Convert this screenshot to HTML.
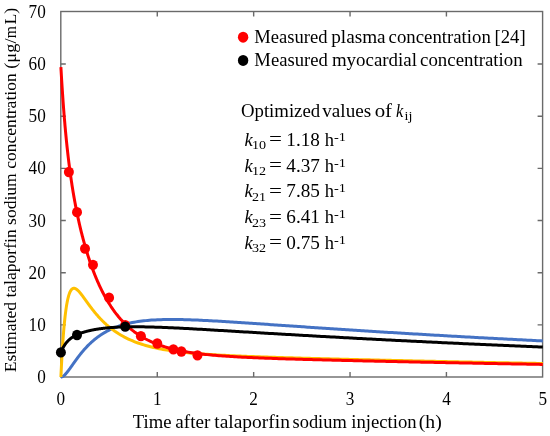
<!DOCTYPE html>
<html><head><meta charset="utf-8"><style>
html,body{margin:0;padding:0;background:#fff;}
body{width:550px;height:436px;overflow:hidden;}
svg{display:block;will-change:transform;filter:blur(0.45px);}
text{font-family:"Liberation Serif",serif;fill:#000;}
</style></head><body>
<svg width="550" height="436" viewBox="0 0 550 436">
<rect width="550" height="436" fill="#fff"/>
<rect x="60.80" y="11.50" width="481.80" height="365.50" fill="none" stroke="#6a6a6a" stroke-width="1.40"/>
<path d="M157.28,377.00V372.00M157.28,11.50V16.50M253.66,377.00V372.00M253.66,11.50V16.50M350.04,377.00V372.00M350.04,11.50V16.50M446.42,377.00V372.00M446.42,11.50V16.50M60.80,324.84H65.80M542.60,324.84H537.60M60.80,272.68H65.80M542.60,272.68H537.60M60.80,220.52H65.80M542.60,220.52H537.60M60.80,168.36H65.80M542.60,168.36H537.60M60.80,116.20H65.80M542.60,116.20H537.60M60.80,64.04H65.80M542.60,64.04H537.60" stroke="#6a6a6a" stroke-width="1.40" fill="none"/>
<text transform="translate(45.80,383.00) scale(0.920,1)" font-size="18.70" text-anchor="end">0</text>
<text transform="translate(45.80,330.84) scale(0.920,1)" font-size="18.70" text-anchor="end">10</text>
<text transform="translate(45.80,278.68) scale(0.920,1)" font-size="18.70" text-anchor="end">20</text>
<text transform="translate(45.80,226.52) scale(0.920,1)" font-size="18.70" text-anchor="end">30</text>
<text transform="translate(45.80,174.36) scale(0.920,1)" font-size="18.70" text-anchor="end">40</text>
<text transform="translate(45.80,122.20) scale(0.920,1)" font-size="18.70" text-anchor="end">50</text>
<text transform="translate(45.80,70.04) scale(0.920,1)" font-size="18.70" text-anchor="end">60</text>
<text transform="translate(45.80,17.88) scale(0.920,1)" font-size="18.70" text-anchor="end">70</text>
<text transform="translate(60.90,404.60) scale(0.920,1)" font-size="18.70" text-anchor="middle">0</text>
<text transform="translate(157.28,404.60) scale(0.920,1)" font-size="18.70" text-anchor="middle">1</text>
<text transform="translate(253.66,404.60) scale(0.920,1)" font-size="18.70" text-anchor="middle">2</text>
<text transform="translate(350.04,404.60) scale(0.920,1)" font-size="18.70" text-anchor="middle">3</text>
<text transform="translate(446.42,404.60) scale(0.920,1)" font-size="18.70" text-anchor="middle">4</text>
<text transform="translate(542.80,404.60) scale(0.920,1)" font-size="18.70" text-anchor="middle">5</text>
<g fill="none" stroke-width="3" stroke-linejoin="round" stroke-linecap="butt">
<path d="M60.90,377.00 L61.14,376.99 L61.38,376.96 L61.62,376.91 L61.86,376.84 L62.10,376.75 L62.35,376.65 L62.59,376.53 L62.83,376.39 L63.07,376.24 L63.31,376.08 L63.55,375.91 L63.79,375.72 L64.03,375.52 L64.27,375.31 L64.51,375.09 L64.76,374.86 L65.00,374.63 L65.24,374.38 L65.48,374.13 L65.72,373.87 L65.96,373.60 L66.20,373.32 L66.44,373.04 L66.68,372.75 L66.92,372.46 L67.16,372.16 L67.41,371.86 L67.65,371.56 L67.89,371.25 L68.13,370.93 L68.37,370.62 L68.61,370.30 L68.85,369.97 L69.09,369.65 L69.33,369.32 L69.57,368.99 L69.82,368.66 L70.06,368.32 L70.30,367.99 L70.54,367.65 L70.78,367.31 L71.02,366.97 L71.26,366.63 L71.50,366.29 L71.74,365.95 L71.98,365.61 L72.22,365.27 L72.47,364.93 L72.71,364.59 L72.95,364.25 L73.19,363.90 L73.43,363.56 L73.67,363.22 L73.91,362.88 L74.15,362.54 L74.39,362.21 L74.63,361.87 L74.88,361.53 L75.12,361.20 L75.36,360.86 L75.60,360.53 L75.84,360.19 L76.08,359.86 L76.32,359.53 L76.56,359.20 L76.80,358.88 L77.04,358.55 L77.28,358.23 L77.53,357.90 L77.77,357.58 L78.01,357.26 L78.25,356.94 L78.49,356.62 L78.73,356.31 L78.97,356.00 L79.21,355.68 L79.45,355.37 L79.69,355.06 L79.94,354.76 L80.18,354.45 L80.42,354.15 L80.66,353.85 L80.90,353.55 L81.14,353.25 L81.38,352.95 L81.62,352.66 L81.86,352.36 L82.10,352.07 L82.34,351.78 L82.59,351.50 L82.83,351.21 L83.07,350.93 L83.31,350.65 L83.55,350.37 L83.79,350.09 L84.03,349.81 L84.27,349.54 L84.51,349.27 L84.75,349.00 L85.00,348.73 L85.24,348.46 L85.48,348.20 L85.72,347.94 L85.96,347.68 L86.20,347.42 L86.44,347.16 L86.68,346.91 L86.92,346.65 L87.16,346.40 L87.40,346.15 L87.65,345.90 L87.89,345.66 L88.13,345.41 L88.37,345.17 L88.61,344.93 L88.85,344.69 L89.09,344.45 L89.33,344.22 L89.57,343.99 L89.81,343.76 L90.05,343.53 L90.30,343.30 L90.54,343.07 L90.78,342.85 L91.02,342.62 L91.26,342.40 L91.50,342.18 L91.74,341.97 L91.98,341.75 L92.22,341.54 L92.46,341.32 L92.71,341.11 L92.95,340.90 L93.19,340.70 L93.43,340.49 L93.67,340.29 L93.91,340.08 L94.15,339.88 L94.39,339.68 L94.63,339.48 L94.87,339.29 L95.11,339.09 L95.36,338.90 L95.60,338.71 L95.84,338.52 L96.08,338.33 L96.32,338.14 L96.56,337.96 L96.80,337.77 L97.04,337.59 L97.28,337.41 L97.52,337.23 L97.77,337.05 L98.01,336.88 L98.25,336.70 L98.49,336.53 L98.73,336.36 L98.97,336.19 L99.21,336.02 L99.45,335.85 L99.69,335.68 L99.93,335.52 L100.17,335.35 L100.42,335.19 L100.66,335.03 L100.90,334.87 L101.14,334.71 L101.38,334.55 L101.62,334.40 L101.86,334.24 L102.10,334.09 L102.34,333.94 L102.58,333.79 L102.83,333.64 L103.07,333.49 L103.31,333.34 L103.55,333.20 L103.79,333.05 L104.03,332.91 L104.27,332.77 L104.51,332.63 L104.75,332.49 L104.99,332.35 L105.23,332.21 L105.48,332.08 L105.72,331.94 L105.96,331.81 L106.20,331.67 L106.44,331.54 L106.68,331.41 L106.92,331.28 L107.16,331.16 L107.40,331.03 L107.64,330.90 L107.89,330.78 L108.13,330.65 L108.37,330.53 L108.61,330.41 L108.85,330.29 L109.09,330.17 L111.02,329.25 L112.95,328.40 L114.87,327.60 L116.80,326.86 L118.73,326.17 L120.66,325.53 L122.58,324.94 L124.51,324.39 L126.44,323.89 L128.37,323.42 L130.29,322.99 L132.22,322.59 L134.15,322.22 L136.08,321.89 L138.00,321.59 L139.93,321.31 L141.86,321.06 L143.79,320.83 L145.71,320.62 L147.64,320.44 L149.57,320.27 L151.50,320.12 L153.42,320.00 L155.35,319.88 L157.28,319.79 L159.21,319.71 L161.14,319.64 L163.06,319.58 L164.99,319.54 L166.92,319.51 L168.85,319.49 L170.77,319.48 L172.70,319.48 L174.63,319.49 L176.56,319.50 L178.48,319.53 L180.41,319.56 L182.34,319.60 L184.27,319.64 L186.19,319.69 L188.12,319.75 L190.05,319.81 L191.98,319.88 L193.90,319.95 L195.83,320.03 L197.76,320.11 L199.69,320.20 L201.61,320.28 L203.54,320.38 L205.47,320.47 L207.40,320.57 L209.33,320.67 L211.25,320.77 L213.18,320.88 L215.11,320.99 L217.04,321.10 L218.96,321.21 L220.89,321.32 L222.82,321.44 L224.75,321.56 L226.67,321.68 L228.60,321.80 L230.53,321.92 L232.46,322.04 L234.38,322.16 L236.31,322.29 L238.24,322.41 L240.17,322.54 L242.09,322.67 L244.02,322.79 L245.95,322.92 L247.88,323.05 L249.80,323.18 L251.73,323.31 L253.66,323.44 L255.59,323.57 L257.52,323.70 L259.44,323.83 L261.37,323.97 L263.30,324.10 L265.23,324.23 L267.15,324.36 L269.08,324.49 L271.01,324.63 L272.94,324.76 L274.86,324.89 L276.79,325.02 L278.72,325.16 L280.65,325.29 L282.57,325.42 L284.50,325.55 L286.43,325.69 L288.36,325.82 L290.28,325.95 L292.21,326.08 L294.14,326.21 L296.07,326.35 L297.99,326.48 L299.92,326.61 L301.85,326.74 L303.78,326.87 L305.71,327.00 L307.63,327.13 L309.56,327.26 L311.49,327.39 L313.42,327.52 L315.34,327.65 L317.27,327.78 L319.20,327.91 L321.13,328.04 L323.05,328.17 L324.98,328.30 L326.91,328.43 L328.84,328.55 L330.76,328.68 L332.69,328.81 L334.62,328.94 L336.55,329.06 L338.47,329.19 L340.40,329.32 L342.33,329.44 L344.26,329.57 L346.18,329.69 L348.11,329.82 L350.04,329.94 L351.97,330.07 L353.90,330.19 L355.82,330.32 L357.75,330.44 L359.68,330.56 L361.61,330.69 L363.53,330.81 L365.46,330.93 L367.39,331.05 L369.32,331.18 L371.24,331.30 L373.17,331.42 L375.10,331.54 L377.03,331.66 L378.95,331.78 L380.88,331.90 L382.81,332.02 L384.74,332.14 L386.66,332.26 L388.59,332.38 L390.52,332.50 L392.45,332.61 L394.37,332.73 L396.30,332.85 L398.23,332.97 L400.16,333.08 L402.09,333.20 L404.01,333.32 L405.94,333.43 L407.87,333.55 L409.80,333.66 L411.72,333.78 L413.65,333.89 L415.58,334.01 L417.51,334.12 L419.43,334.24 L421.36,334.35 L423.29,334.46 L425.22,334.58 L427.14,334.69 L429.07,334.80 L431.00,334.92 L432.93,335.03 L434.85,335.14 L436.78,335.25 L438.71,335.36 L440.64,335.47 L442.56,335.58 L444.49,335.69 L446.42,335.80 L448.35,335.91 L450.28,336.02 L452.20,336.13 L454.13,336.24 L456.06,336.35 L457.99,336.46 L459.91,336.56 L461.84,336.67 L463.77,336.78 L465.70,336.88 L467.62,336.99 L469.55,337.10 L471.48,337.20 L473.41,337.31 L475.33,337.42 L477.26,337.52 L479.19,337.63 L481.12,337.73 L483.04,337.83 L484.97,337.94 L486.90,338.04 L488.83,338.15 L490.75,338.25 L492.68,338.35 L494.61,338.46 L496.54,338.56 L498.47,338.66 L500.39,338.76 L502.32,338.86 L504.25,338.97 L506.18,339.07 L508.10,339.17 L510.03,339.27 L511.96,339.37 L513.89,339.47 L515.81,339.57 L517.74,339.67 L519.67,339.77 L521.60,339.87 L523.52,339.97 L525.45,340.06 L527.38,340.16 L529.31,340.26 L531.23,340.36 L533.16,340.46 L535.09,340.55 L537.02,340.65 L538.94,340.75 L540.87,340.84 L542.80,340.94" stroke="#4472C4" />
<path d="M60.90,377.00 L61.14,371.87 L61.38,366.99 L61.62,362.34 L61.86,357.93 L62.10,353.73 L62.35,349.74 L62.59,345.95 L62.83,342.35 L63.07,338.93 L63.31,335.69 L63.55,332.61 L63.79,329.69 L64.03,326.93 L64.27,324.31 L64.51,321.83 L64.76,319.48 L65.00,317.27 L65.24,315.17 L65.48,313.19 L65.72,311.32 L65.96,309.55 L66.20,307.89 L66.44,306.32 L66.68,304.85 L66.92,303.47 L67.16,302.16 L67.41,300.95 L67.65,299.80 L67.89,298.73 L68.13,297.73 L68.37,296.80 L68.61,295.94 L68.85,295.13 L69.09,294.38 L69.33,293.69 L69.57,293.05 L69.82,292.46 L70.06,291.92 L70.30,291.43 L70.54,290.98 L70.78,290.57 L71.02,290.20 L71.26,289.87 L71.50,289.58 L71.74,289.32 L71.98,289.09 L72.22,288.90 L72.47,288.73 L72.71,288.59 L72.95,288.49 L73.19,288.40 L73.43,288.34 L73.67,288.31 L73.91,288.29 L74.15,288.30 L74.39,288.33 L74.63,288.38 L74.88,288.44 L75.12,288.52 L75.36,288.62 L75.60,288.74 L75.84,288.86 L76.08,289.01 L76.32,289.16 L76.56,289.33 L76.80,289.51 L77.04,289.70 L77.28,289.90 L77.53,290.11 L77.77,290.33 L78.01,290.56 L78.25,290.80 L78.49,291.05 L78.73,291.30 L78.97,291.56 L79.21,291.83 L79.45,292.10 L79.69,292.38 L79.94,292.66 L80.18,292.95 L80.42,293.24 L80.66,293.54 L80.90,293.84 L81.14,294.15 L81.38,294.46 L81.62,294.77 L81.86,295.08 L82.10,295.40 L82.34,295.72 L82.59,296.04 L82.83,296.37 L83.07,296.69 L83.31,297.02 L83.55,297.35 L83.79,297.68 L84.03,298.01 L84.27,298.34 L84.51,298.68 L84.75,299.01 L85.00,299.34 L85.24,299.68 L85.48,300.01 L85.72,300.35 L85.96,300.68 L86.20,301.02 L86.44,301.35 L86.68,301.69 L86.92,302.02 L87.16,302.36 L87.40,302.69 L87.65,303.02 L87.89,303.36 L88.13,303.69 L88.37,304.02 L88.61,304.35 L88.85,304.68 L89.09,305.00 L89.33,305.33 L89.57,305.66 L89.81,305.98 L90.05,306.30 L90.30,306.63 L90.54,306.95 L90.78,307.27 L91.02,307.59 L91.26,307.90 L91.50,308.22 L91.74,308.53 L91.98,308.84 L92.22,309.16 L92.46,309.46 L92.71,309.77 L92.95,310.08 L93.19,310.38 L93.43,310.69 L93.67,310.99 L93.91,311.29 L94.15,311.59 L94.39,311.89 L94.63,312.18 L94.87,312.47 L95.11,312.77 L95.36,313.06 L95.60,313.35 L95.84,313.63 L96.08,313.92 L96.32,314.20 L96.56,314.48 L96.80,314.76 L97.04,315.04 L97.28,315.32 L97.52,315.59 L97.77,315.87 L98.01,316.14 L98.25,316.41 L98.49,316.68 L98.73,316.95 L98.97,317.21 L99.21,317.47 L99.45,317.74 L99.69,318.00 L99.93,318.25 L100.17,318.51 L100.42,318.76 L100.66,319.02 L100.90,319.27 L101.14,319.52 L101.38,319.77 L101.62,320.01 L101.86,320.26 L102.10,320.50 L102.34,320.74 L102.58,320.98 L102.83,321.22 L103.07,321.46 L103.31,321.70 L103.55,321.93 L103.79,322.16 L104.03,322.39 L104.27,322.62 L104.51,322.85 L104.75,323.07 L104.99,323.30 L105.23,323.52 L105.48,323.74 L105.72,323.96 L105.96,324.18 L106.20,324.40 L106.44,324.61 L106.68,324.83 L106.92,325.04 L107.16,325.25 L107.40,325.46 L107.64,325.67 L107.89,325.87 L108.13,326.08 L108.37,326.28 L108.61,326.48 L108.85,326.68 L109.09,326.88 L111.02,328.43 L112.95,329.89 L114.87,331.27 L116.80,332.57 L118.73,333.81 L120.66,334.97 L122.58,336.07 L124.51,337.12 L126.44,338.10 L128.37,339.03 L130.29,339.91 L132.22,340.74 L134.15,341.53 L136.08,342.28 L138.00,342.98 L139.93,343.65 L141.86,344.29 L143.79,344.89 L145.71,345.45 L147.64,345.99 L149.57,346.50 L151.50,346.99 L153.42,347.45 L155.35,347.89 L157.28,348.30 L159.21,348.70 L161.14,349.07 L163.06,349.43 L164.99,349.77 L166.92,350.09 L168.85,350.39 L170.77,350.69 L172.70,350.97 L174.63,351.23 L176.56,351.49 L178.48,351.73 L180.41,351.96 L182.34,352.18 L184.27,352.39 L186.19,352.60 L188.12,352.79 L190.05,352.98 L191.98,353.16 L193.90,353.33 L195.83,353.49 L197.76,353.65 L199.69,353.80 L201.61,353.95 L203.54,354.09 L205.47,354.23 L207.40,354.36 L209.33,354.49 L211.25,354.61 L213.18,354.73 L215.11,354.85 L217.04,354.96 L218.96,355.07 L220.89,355.17 L222.82,355.27 L224.75,355.37 L226.67,355.47 L228.60,355.56 L230.53,355.65 L232.46,355.74 L234.38,355.83 L236.31,355.92 L238.24,356.00 L240.17,356.08 L242.09,356.16 L244.02,356.24 L245.95,356.32 L247.88,356.39 L249.80,356.47 L251.73,356.54 L253.66,356.61 L255.59,356.68 L257.52,356.75 L259.44,356.82 L261.37,356.88 L263.30,356.95 L265.23,357.02 L267.15,357.08 L269.08,357.14 L271.01,357.21 L272.94,357.27 L274.86,357.33 L276.79,357.39 L278.72,357.45 L280.65,357.51 L282.57,357.57 L284.50,357.63 L286.43,357.68 L288.36,357.74 L290.28,357.80 L292.21,357.85 L294.14,357.91 L296.07,357.96 L297.99,358.02 L299.92,358.07 L301.85,358.13 L303.78,358.18 L305.71,358.24 L307.63,358.29 L309.56,358.34 L311.49,358.39 L313.42,358.45 L315.34,358.50 L317.27,358.55 L319.20,358.60 L321.13,358.65 L323.05,358.70 L324.98,358.75 L326.91,358.80 L328.84,358.85 L330.76,358.90 L332.69,358.95 L334.62,359.00 L336.55,359.05 L338.47,359.10 L340.40,359.15 L342.33,359.20 L344.26,359.25 L346.18,359.29 L348.11,359.34 L350.04,359.39 L351.97,359.44 L353.90,359.48 L355.82,359.53 L357.75,359.58 L359.68,359.63 L361.61,359.67 L363.53,359.72 L365.46,359.77 L367.39,359.81 L369.32,359.86 L371.24,359.90 L373.17,359.95 L375.10,360.00 L377.03,360.04 L378.95,360.09 L380.88,360.13 L382.81,360.18 L384.74,360.22 L386.66,360.27 L388.59,360.31 L390.52,360.36 L392.45,360.40 L394.37,360.45 L396.30,360.49 L398.23,360.53 L400.16,360.58 L402.09,360.62 L404.01,360.67 L405.94,360.71 L407.87,360.75 L409.80,360.80 L411.72,360.84 L413.65,360.88 L415.58,360.93 L417.51,360.97 L419.43,361.01 L421.36,361.05 L423.29,361.10 L425.22,361.14 L427.14,361.18 L429.07,361.22 L431.00,361.27 L432.93,361.31 L434.85,361.35 L436.78,361.39 L438.71,361.43 L440.64,361.47 L442.56,361.51 L444.49,361.56 L446.42,361.60 L448.35,361.64 L450.28,361.68 L452.20,361.72 L454.13,361.76 L456.06,361.80 L457.99,361.84 L459.91,361.88 L461.84,361.92 L463.77,361.96 L465.70,362.00 L467.62,362.04 L469.55,362.08 L471.48,362.12 L473.41,362.16 L475.33,362.20 L477.26,362.24 L479.19,362.28 L481.12,362.32 L483.04,362.36 L484.97,362.40 L486.90,362.44 L488.83,362.47 L490.75,362.51 L492.68,362.55 L494.61,362.59 L496.54,362.63 L498.47,362.67 L500.39,362.70 L502.32,362.74 L504.25,362.78 L506.18,362.82 L508.10,362.86 L510.03,362.89 L511.96,362.93 L513.89,362.97 L515.81,363.01 L517.74,363.04 L519.67,363.08 L521.60,363.12 L523.52,363.15 L525.45,363.19 L527.38,363.23 L529.31,363.26 L531.23,363.30 L533.16,363.34 L535.09,363.37 L537.02,363.41 L538.94,363.45 L540.87,363.48 L542.80,363.52" stroke="#FFC000" />
<path d="M60.90,67.17 L61.14,71.41 L61.38,75.52 L61.62,79.52 L61.86,83.41 L62.10,87.19 L62.35,90.86 L62.59,94.44 L62.83,97.92 L63.07,101.31 L63.31,104.61 L63.55,107.83 L63.79,110.96 L64.03,114.02 L64.27,117.00 L64.51,119.90 L64.76,122.74 L65.00,125.51 L65.24,128.21 L65.48,130.85 L65.72,133.43 L65.96,135.95 L66.20,138.41 L66.44,140.83 L66.68,143.18 L66.92,145.49 L67.16,147.75 L67.41,149.96 L67.65,152.13 L67.89,154.25 L68.13,156.34 L68.37,158.38 L68.61,160.38 L68.85,162.34 L69.09,164.27 L69.33,166.16 L69.57,168.01 L69.82,169.84 L70.06,171.63 L70.30,173.39 L70.54,175.12 L70.78,176.82 L71.02,178.49 L71.26,180.13 L71.50,181.75 L71.74,183.34 L71.98,184.91 L72.22,186.45 L72.47,187.97 L72.71,189.47 L72.95,190.95 L73.19,192.40 L73.43,193.83 L73.67,195.24 L73.91,196.63 L74.15,198.01 L74.39,199.36 L74.63,200.70 L74.88,202.02 L75.12,203.32 L75.36,204.60 L75.60,205.87 L75.84,207.12 L76.08,208.36 L76.32,209.58 L76.56,210.78 L76.80,211.98 L77.04,213.15 L77.28,214.32 L77.53,215.47 L77.77,216.61 L78.01,217.73 L78.25,218.84 L78.49,219.94 L78.73,221.03 L78.97,222.11 L79.21,223.17 L79.45,224.22 L79.69,225.27 L79.94,226.30 L80.18,227.32 L80.42,228.33 L80.66,229.33 L80.90,230.32 L81.14,231.30 L81.38,232.27 L81.62,233.23 L81.86,234.18 L82.10,235.12 L82.34,236.06 L82.59,236.98 L82.83,237.90 L83.07,238.81 L83.31,239.70 L83.55,240.60 L83.79,241.48 L84.03,242.35 L84.27,243.22 L84.51,244.08 L84.75,244.93 L85.00,245.77 L85.24,246.61 L85.48,247.44 L85.72,248.26 L85.96,249.08 L86.20,249.88 L86.44,250.68 L86.68,251.48 L86.92,252.27 L87.16,253.05 L87.40,253.82 L87.65,254.59 L87.89,255.35 L88.13,256.10 L88.37,256.85 L88.61,257.59 L88.85,258.33 L89.09,259.06 L89.33,259.78 L89.57,260.50 L89.81,261.22 L90.05,261.92 L90.30,262.62 L90.54,263.32 L90.78,264.01 L91.02,264.69 L91.26,265.37 L91.50,266.05 L91.74,266.71 L91.98,267.38 L92.22,268.03 L92.46,268.69 L92.71,269.33 L92.95,269.98 L93.19,270.61 L93.43,271.25 L93.67,271.87 L93.91,272.50 L94.15,273.11 L94.39,273.73 L94.63,274.34 L94.87,274.94 L95.11,275.54 L95.36,276.13 L95.60,276.72 L95.84,277.31 L96.08,277.89 L96.32,278.46 L96.56,279.04 L96.80,279.60 L97.04,280.17 L97.28,280.73 L97.52,281.28 L97.77,281.83 L98.01,282.38 L98.25,282.92 L98.49,283.46 L98.73,283.99 L98.97,284.52 L99.21,285.05 L99.45,285.57 L99.69,286.09 L99.93,286.60 L100.17,287.11 L100.42,287.62 L100.66,288.12 L100.90,288.62 L101.14,289.12 L101.38,289.61 L101.62,290.10 L101.86,290.58 L102.10,291.06 L102.34,291.54 L102.58,292.01 L102.83,292.48 L103.07,292.95 L103.31,293.41 L103.55,293.87 L103.79,294.33 L104.03,294.78 L104.27,295.23 L104.51,295.68 L104.75,296.12 L104.99,296.56 L105.23,297.00 L105.48,297.43 L105.72,297.86 L105.96,298.28 L106.20,298.71 L106.44,299.13 L106.68,299.55 L106.92,299.96 L107.16,300.37 L107.40,300.78 L107.64,301.18 L107.89,301.59 L108.13,301.99 L108.37,302.38 L108.61,302.78 L108.85,303.17 L109.09,303.55 L111.02,306.55 L112.95,309.38 L114.87,312.05 L116.80,314.56 L118.73,316.94 L120.66,319.17 L122.58,321.28 L124.51,323.28 L126.44,325.15 L128.37,326.93 L130.29,328.60 L132.22,330.18 L134.15,331.67 L136.08,333.08 L138.00,334.41 L139.93,335.66 L141.86,336.85 L143.79,337.97 L145.71,339.03 L147.64,340.02 L149.57,340.97 L151.50,341.86 L153.42,342.71 L155.35,343.51 L157.28,344.26 L159.21,344.98 L161.14,345.65 L163.06,346.29 L164.99,346.90 L166.92,347.47 L168.85,348.02 L170.77,348.53 L172.70,349.02 L174.63,349.48 L176.56,349.92 L178.48,350.34 L180.41,350.74 L182.34,351.11 L184.27,351.47 L186.19,351.81 L188.12,352.13 L190.05,352.44 L191.98,352.73 L193.90,353.01 L195.83,353.27 L197.76,353.53 L199.69,353.77 L201.61,354.00 L203.54,354.22 L205.47,354.43 L207.40,354.63 L209.33,354.82 L211.25,355.00 L213.18,355.18 L215.11,355.35 L217.04,355.51 L218.96,355.66 L220.89,355.81 L222.82,355.96 L224.75,356.10 L226.67,356.23 L228.60,356.36 L230.53,356.48 L232.46,356.60 L234.38,356.71 L236.31,356.83 L238.24,356.93 L240.17,357.04 L242.09,357.14 L244.02,357.24 L245.95,357.33 L247.88,357.42 L249.80,357.51 L251.73,357.60 L253.66,357.69 L255.59,357.77 L257.52,357.85 L259.44,357.93 L261.37,358.00 L263.30,358.08 L265.23,358.15 L267.15,358.23 L269.08,358.30 L271.01,358.37 L272.94,358.43 L274.86,358.50 L276.79,358.57 L278.72,358.63 L280.65,358.69 L282.57,358.76 L284.50,358.82 L286.43,358.88 L288.36,358.94 L290.28,359.00 L292.21,359.05 L294.14,359.11 L296.07,359.17 L297.99,359.22 L299.92,359.28 L301.85,359.33 L303.78,359.39 L305.71,359.44 L307.63,359.49 L309.56,359.55 L311.49,359.60 L313.42,359.65 L315.34,359.70 L317.27,359.75 L319.20,359.80 L321.13,359.85 L323.05,359.90 L324.98,359.95 L326.91,360.00 L328.84,360.05 L330.76,360.10 L332.69,360.14 L334.62,360.19 L336.55,360.24 L338.47,360.29 L340.40,360.33 L342.33,360.38 L344.26,360.43 L346.18,360.47 L348.11,360.52 L350.04,360.56 L351.97,360.61 L353.90,360.65 L355.82,360.70 L357.75,360.74 L359.68,360.79 L361.61,360.83 L363.53,360.88 L365.46,360.92 L367.39,360.96 L369.32,361.01 L371.24,361.05 L373.17,361.09 L375.10,361.14 L377.03,361.18 L378.95,361.22 L380.88,361.26 L382.81,361.31 L384.74,361.35 L386.66,361.39 L388.59,361.43 L390.52,361.48 L392.45,361.52 L394.37,361.56 L396.30,361.60 L398.23,361.64 L400.16,361.68 L402.09,361.72 L404.01,361.76 L405.94,361.81 L407.87,361.85 L409.80,361.89 L411.72,361.93 L413.65,361.97 L415.58,362.01 L417.51,362.05 L419.43,362.09 L421.36,362.13 L423.29,362.17 L425.22,362.21 L427.14,362.25 L429.07,362.29 L431.00,362.33 L432.93,362.36 L434.85,362.40 L436.78,362.44 L438.71,362.48 L440.64,362.52 L442.56,362.56 L444.49,362.60 L446.42,362.64 L448.35,362.67 L450.28,362.71 L452.20,362.75 L454.13,362.79 L456.06,362.83 L457.99,362.86 L459.91,362.90 L461.84,362.94 L463.77,362.98 L465.70,363.01 L467.62,363.05 L469.55,363.09 L471.48,363.12 L473.41,363.16 L475.33,363.20 L477.26,363.24 L479.19,363.27 L481.12,363.31 L483.04,363.35 L484.97,363.38 L486.90,363.42 L488.83,363.45 L490.75,363.49 L492.68,363.53 L494.61,363.56 L496.54,363.60 L498.47,363.63 L500.39,363.67 L502.32,363.70 L504.25,363.74 L506.18,363.77 L508.10,363.81 L510.03,363.85 L511.96,363.88 L513.89,363.92 L515.81,363.95 L517.74,363.98 L519.67,364.02 L521.60,364.05 L523.52,364.09 L525.45,364.12 L527.38,364.16 L529.31,364.19 L531.23,364.23 L533.16,364.26 L535.09,364.29 L537.02,364.33 L538.94,364.36 L540.87,364.39 L542.80,364.43" stroke="#FF0000" />
<ellipse cx="68.90" cy="172.01" rx="5.00" ry="5.15" fill="#FF0000"/>
<ellipse cx="77.00" cy="212.17" rx="5.00" ry="5.15" fill="#FF0000"/>
<ellipse cx="85.00" cy="248.69" rx="5.00" ry="5.15" fill="#FF0000"/>
<ellipse cx="92.99" cy="264.86" rx="5.00" ry="5.15" fill="#FF0000"/>
<ellipse cx="109.09" cy="297.72" rx="5.00" ry="5.15" fill="#FF0000"/>
<ellipse cx="125.19" cy="325.10" rx="5.00" ry="5.15" fill="#FF0000"/>
<ellipse cx="140.90" cy="336.21" rx="5.00" ry="5.15" fill="#FF0000"/>
<ellipse cx="157.28" cy="343.51" rx="5.00" ry="5.15" fill="#FF0000"/>
<ellipse cx="173.38" cy="349.30" rx="5.00" ry="5.15" fill="#FF0000"/>
<ellipse cx="181.38" cy="351.49" rx="5.00" ry="5.15" fill="#FF0000"/>
<ellipse cx="197.47" cy="355.30" rx="5.00" ry="5.15" fill="#FF0000"/>
<path d="M60.90,352.40 L61.14,351.80 L61.38,351.22 L61.62,350.66 L61.86,350.12 L62.10,349.60 L62.35,349.10 L62.59,348.61 L62.83,348.14 L63.07,347.68 L63.31,347.24 L63.55,346.81 L63.79,346.39 L64.03,345.99 L64.27,345.60 L64.51,345.22 L64.76,344.85 L65.00,344.50 L65.24,344.15 L65.48,343.82 L65.72,343.49 L65.96,343.18 L66.20,342.87 L66.44,342.57 L66.68,342.28 L66.92,342.00 L67.16,341.73 L67.41,341.46 L67.65,341.20 L67.89,340.95 L68.13,340.71 L68.37,340.47 L68.61,340.23 L68.85,340.01 L69.09,339.79 L69.33,339.57 L69.57,339.36 L69.82,339.15 L70.06,338.95 L70.30,338.76 L70.54,338.57 L70.78,338.38 L71.02,338.20 L71.26,338.02 L71.50,337.84 L71.74,337.67 L71.98,337.51 L72.22,337.34 L72.47,337.18 L72.71,337.03 L72.95,336.87 L73.19,336.72 L73.43,336.58 L73.67,336.43 L73.91,336.29 L74.15,336.15 L74.39,336.02 L74.63,335.88 L74.88,335.75 L75.12,335.62 L75.36,335.50 L75.60,335.37 L75.84,335.25 L76.08,335.13 L76.32,335.02 L76.56,334.90 L76.80,334.79 L77.04,334.68 L77.28,334.57 L77.53,334.46 L77.77,334.35 L78.01,334.25 L78.25,334.14 L78.49,334.04 L78.73,333.94 L78.97,333.85 L79.21,333.75 L79.45,333.65 L79.69,333.56 L79.94,333.47 L80.18,333.38 L80.42,333.29 L80.66,333.20 L80.90,333.11 L81.14,333.03 L81.38,332.94 L81.62,332.86 L81.86,332.77 L82.10,332.69 L82.34,332.61 L82.59,332.53 L82.83,332.46 L83.07,332.38 L83.31,332.30 L83.55,332.23 L83.79,332.15 L84.03,332.08 L84.27,332.01 L84.51,331.94 L84.75,331.87 L85.00,331.80 L85.24,331.73 L85.48,331.66 L85.72,331.59 L85.96,331.53 L86.20,331.46 L86.44,331.40 L86.68,331.33 L86.92,331.27 L87.16,331.21 L87.40,331.15 L87.65,331.09 L87.89,331.03 L88.13,330.97 L88.37,330.91 L88.61,330.85 L88.85,330.79 L89.09,330.73 L89.33,330.68 L89.57,330.62 L89.81,330.57 L90.05,330.51 L90.30,330.46 L90.54,330.41 L90.78,330.36 L91.02,330.30 L91.26,330.25 L91.50,330.20 L91.74,330.15 L91.98,330.10 L92.22,330.05 L92.46,330.01 L92.71,329.96 L92.95,329.91 L93.19,329.86 L93.43,329.82 L93.67,329.77 L93.91,329.73 L94.15,329.68 L94.39,329.64 L94.63,329.59 L94.87,329.55 L95.11,329.51 L95.36,329.47 L95.60,329.43 L95.84,329.38 L96.08,329.34 L96.32,329.30 L96.56,329.26 L96.80,329.22 L97.04,329.18 L97.28,329.15 L97.52,329.11 L97.77,329.07 L98.01,329.03 L98.25,329.00 L98.49,328.96 L98.73,328.92 L98.97,328.89 L99.21,328.85 L99.45,328.82 L99.69,328.79 L99.93,328.75 L100.17,328.72 L100.42,328.69 L100.66,328.65 L100.90,328.62 L101.14,328.59 L101.38,328.56 L101.62,328.53 L101.86,328.50 L102.10,328.46 L102.34,328.43 L102.58,328.40 L102.83,328.38 L103.07,328.35 L103.31,328.32 L103.55,328.29 L103.79,328.26 L104.03,328.23 L104.27,328.21 L104.51,328.18 L104.75,328.15 L104.99,328.13 L105.23,328.10 L105.48,328.08 L105.72,328.05 L105.96,328.03 L106.20,328.00 L106.44,327.98 L106.68,327.95 L106.92,327.93 L107.16,327.91 L107.40,327.88 L107.64,327.86 L107.89,327.84 L108.13,327.82 L108.37,327.79 L108.61,327.77 L108.85,327.75 L109.09,327.73 L111.02,327.57 L112.95,327.43 L114.87,327.31 L116.80,327.20 L118.73,327.11 L120.66,327.03 L122.58,326.96 L124.51,326.90 L126.44,326.86 L128.37,326.82 L130.29,326.80 L132.22,326.78 L134.15,326.78 L136.08,326.78 L138.00,326.79 L139.93,326.80 L141.86,326.83 L143.79,326.85 L145.71,326.89 L147.64,326.93 L149.57,326.98 L151.50,327.03 L153.42,327.08 L155.35,327.14 L157.28,327.21 L159.21,327.28 L161.14,327.35 L163.06,327.42 L164.99,327.50 L166.92,327.58 L168.85,327.67 L170.77,327.75 L172.70,327.84 L174.63,327.93 L176.56,328.02 L178.48,328.12 L180.41,328.22 L182.34,328.31 L184.27,328.41 L186.19,328.52 L188.12,328.62 L190.05,328.72 L191.98,328.83 L193.90,328.93 L195.83,329.04 L197.76,329.15 L199.69,329.26 L201.61,329.37 L203.54,329.48 L205.47,329.59 L207.40,329.70 L209.33,329.81 L211.25,329.93 L213.18,330.04 L215.11,330.15 L217.04,330.27 L218.96,330.38 L220.89,330.49 L222.82,330.61 L224.75,330.72 L226.67,330.84 L228.60,330.95 L230.53,331.07 L232.46,331.19 L234.38,331.30 L236.31,331.42 L238.24,331.53 L240.17,331.65 L242.09,331.76 L244.02,331.88 L245.95,332.00 L247.88,332.11 L249.80,332.23 L251.73,332.34 L253.66,332.46 L255.59,332.57 L257.52,332.69 L259.44,332.80 L261.37,332.92 L263.30,333.03 L265.23,333.15 L267.15,333.26 L269.08,333.38 L271.01,333.49 L272.94,333.60 L274.86,333.72 L276.79,333.83 L278.72,333.94 L280.65,334.06 L282.57,334.17 L284.50,334.28 L286.43,334.39 L288.36,334.51 L290.28,334.62 L292.21,334.73 L294.14,334.84 L296.07,334.95 L297.99,335.06 L299.92,335.17 L301.85,335.29 L303.78,335.40 L305.71,335.51 L307.63,335.62 L309.56,335.72 L311.49,335.83 L313.42,335.94 L315.34,336.05 L317.27,336.16 L319.20,336.27 L321.13,336.38 L323.05,336.48 L324.98,336.59 L326.91,336.70 L328.84,336.80 L330.76,336.91 L332.69,337.02 L334.62,337.12 L336.55,337.23 L338.47,337.34 L340.40,337.44 L342.33,337.55 L344.26,337.65 L346.18,337.75 L348.11,337.86 L350.04,337.96 L351.97,338.07 L353.90,338.17 L355.82,338.27 L357.75,338.38 L359.68,338.48 L361.61,338.58 L363.53,338.68 L365.46,338.78 L367.39,338.89 L369.32,338.99 L371.24,339.09 L373.17,339.19 L375.10,339.29 L377.03,339.39 L378.95,339.49 L380.88,339.59 L382.81,339.69 L384.74,339.79 L386.66,339.89 L388.59,339.99 L390.52,340.08 L392.45,340.18 L394.37,340.28 L396.30,340.38 L398.23,340.48 L400.16,340.57 L402.09,340.67 L404.01,340.77 L405.94,340.86 L407.87,340.96 L409.80,341.05 L411.72,341.15 L413.65,341.25 L415.58,341.34 L417.51,341.44 L419.43,341.53 L421.36,341.62 L423.29,341.72 L425.22,341.81 L427.14,341.91 L429.07,342.00 L431.00,342.09 L432.93,342.18 L434.85,342.28 L436.78,342.37 L438.71,342.46 L440.64,342.55 L442.56,342.65 L444.49,342.74 L446.42,342.83 L448.35,342.92 L450.28,343.01 L452.20,343.10 L454.13,343.19 L456.06,343.28 L457.99,343.37 L459.91,343.46 L461.84,343.55 L463.77,343.64 L465.70,343.73 L467.62,343.81 L469.55,343.90 L471.48,343.99 L473.41,344.08 L475.33,344.17 L477.26,344.25 L479.19,344.34 L481.12,344.43 L483.04,344.51 L484.97,344.60 L486.90,344.69 L488.83,344.77 L490.75,344.86 L492.68,344.94 L494.61,345.03 L496.54,345.11 L498.47,345.20 L500.39,345.28 L502.32,345.37 L504.25,345.45 L506.18,345.54 L508.10,345.62 L510.03,345.70 L511.96,345.79 L513.89,345.87 L515.81,345.95 L517.74,346.03 L519.67,346.12 L521.60,346.20 L523.52,346.28 L525.45,346.36 L527.38,346.44 L529.31,346.53 L531.23,346.61 L533.16,346.69 L535.09,346.77 L537.02,346.85 L538.94,346.93 L540.87,347.01 L542.80,347.09" stroke="#000" />
<ellipse cx="60.90" cy="352.38" rx="5.00" ry="5.15" fill="#000"/>
<ellipse cx="77.00" cy="335.01" rx="5.00" ry="5.15" fill="#000"/>
<ellipse cx="125.19" cy="326.72" rx="5.00" ry="5.15" fill="#000"/>
</g>
<ellipse cx="243.10" cy="37.20" rx="5.20" ry="5.50" fill="#FF0000"/>
<ellipse cx="243.10" cy="60.40" rx="5.20" ry="5.50" fill="#000"/>
<text transform="translate(254.34,42.60) scale(1.044,1)" font-size="17.80">Measured</text>
<text transform="translate(331.21,42.60) scale(1.080,1)" font-size="17.80">plasma</text>
<text transform="translate(388.55,42.60) scale(1.057,1)" font-size="17.80">concentration</text>
<text transform="translate(494.50,42.60) scale(1.050,1)" font-size="17.80">[24]</text>
<text transform="translate(254.34,66.10) scale(1.046,1)" font-size="17.80">Measured</text>
<text transform="translate(331.92,66.10) scale(1.062,1)" font-size="17.80">myocardial</text>
<text transform="translate(420.05,66.10) scale(1.060,1)" font-size="17.80">concentration</text>
<text transform="translate(132.83,427.90) scale(1.049,1)" font-size="17.80">Time</text>
<text transform="translate(175.33,427.90) scale(1.073,1)" font-size="17.80">after</text>
<text transform="translate(214.31,427.90) scale(1.093,1)" font-size="17.80">talaporfin</text>
<text transform="translate(292.56,427.90) scale(1.034,1)" font-size="17.80">sodium</text>
<text transform="translate(351.23,427.90) scale(1.052,1)" font-size="17.80">injection</text>
<text transform="translate(418.81,427.90) scale(1.108,1)" font-size="17.80">(h)</text>
<text transform="translate(240.95,117.00) scale(1.055,1)" font-size="17.80">Optimized</text>
<text transform="translate(322.30,117.00) scale(1.075,1)" font-size="17.80">values</text>
<text transform="translate(374.66,117.00) scale(1.173,1)" font-size="17.80">of</text>
<text transform="translate(396.01,117.00) scale(0.915,1)" font-size="17.80" font-style="italic">k</text>
<text transform="translate(404.52,119.90) scale(1.205,1)" font-size="11.80">ij</text>
<text transform="translate(244.60,145.80) scale(1.040,1)" font-size="17.80" font-style="italic">k</text>
<text transform="translate(251.90,149.40) scale(1.120,1)" font-size="12.60">10</text>
<text transform="translate(269.10,145.40) scale(1.185,1)" font-size="19.40">=</text>
<text transform="translate(286.30,145.80) scale(1.080,1)" font-size="17.80">1.18</text>
<text transform="translate(324.80,145.80) scale(1.040,1)" font-size="17.80">h</text>
<text transform="translate(333.90,140.90) scale(1.220,1)" font-size="11.80">-1</text>
<text transform="translate(244.60,171.50) scale(1.040,1)" font-size="17.80" font-style="italic">k</text>
<text transform="translate(251.90,175.10) scale(1.120,1)" font-size="12.60">12</text>
<text transform="translate(269.10,171.10) scale(1.185,1)" font-size="19.40">=</text>
<text transform="translate(286.30,171.50) scale(1.080,1)" font-size="17.80">4.37</text>
<text transform="translate(324.80,171.50) scale(1.040,1)" font-size="17.80">h</text>
<text transform="translate(333.90,166.60) scale(1.220,1)" font-size="11.80">-1</text>
<text transform="translate(244.60,197.20) scale(1.040,1)" font-size="17.80" font-style="italic">k</text>
<text transform="translate(251.90,200.80) scale(1.120,1)" font-size="12.60">21</text>
<text transform="translate(269.10,196.80) scale(1.185,1)" font-size="19.40">=</text>
<text transform="translate(286.30,197.20) scale(1.080,1)" font-size="17.80">7.85</text>
<text transform="translate(324.80,197.20) scale(1.040,1)" font-size="17.80">h</text>
<text transform="translate(333.90,192.30) scale(1.220,1)" font-size="11.80">-1</text>
<text transform="translate(244.60,222.90) scale(1.040,1)" font-size="17.80" font-style="italic">k</text>
<text transform="translate(251.90,226.50) scale(1.120,1)" font-size="12.60">23</text>
<text transform="translate(269.10,222.50) scale(1.185,1)" font-size="19.40">=</text>
<text transform="translate(286.30,222.90) scale(1.080,1)" font-size="17.80">6.41</text>
<text transform="translate(324.80,222.90) scale(1.040,1)" font-size="17.80">h</text>
<text transform="translate(333.90,218.00) scale(1.220,1)" font-size="11.80">-1</text>
<text transform="translate(244.60,248.60) scale(1.040,1)" font-size="17.80" font-style="italic">k</text>
<text transform="translate(251.90,252.20) scale(1.120,1)" font-size="12.60">32</text>
<text transform="translate(269.10,248.20) scale(1.185,1)" font-size="19.40">=</text>
<text transform="translate(286.30,248.60) scale(1.080,1)" font-size="17.80">0.75</text>
<text transform="translate(324.80,248.60) scale(1.040,1)" font-size="17.80">h</text>
<text transform="translate(333.90,243.70) scale(1.220,1)" font-size="11.80">-1</text>
<text transform="translate(16.40,372.23) rotate(-90) scale(1.0980,1)" font-size="16.00">Estimated talaporfin sodium concentration</text>
<text transform="translate(16.40,68.83) rotate(-90) scale(1.1523,1)" font-size="16.00">(μg/</text>
<text transform="translate(16.40,38.31) rotate(-90) scale(0.9797,1)" font-size="16.00">m</text>
<text transform="translate(16.40,24.53) rotate(-90) scale(1.1063,1)" font-size="16.00">L)</text>
</svg>
</body></html>
